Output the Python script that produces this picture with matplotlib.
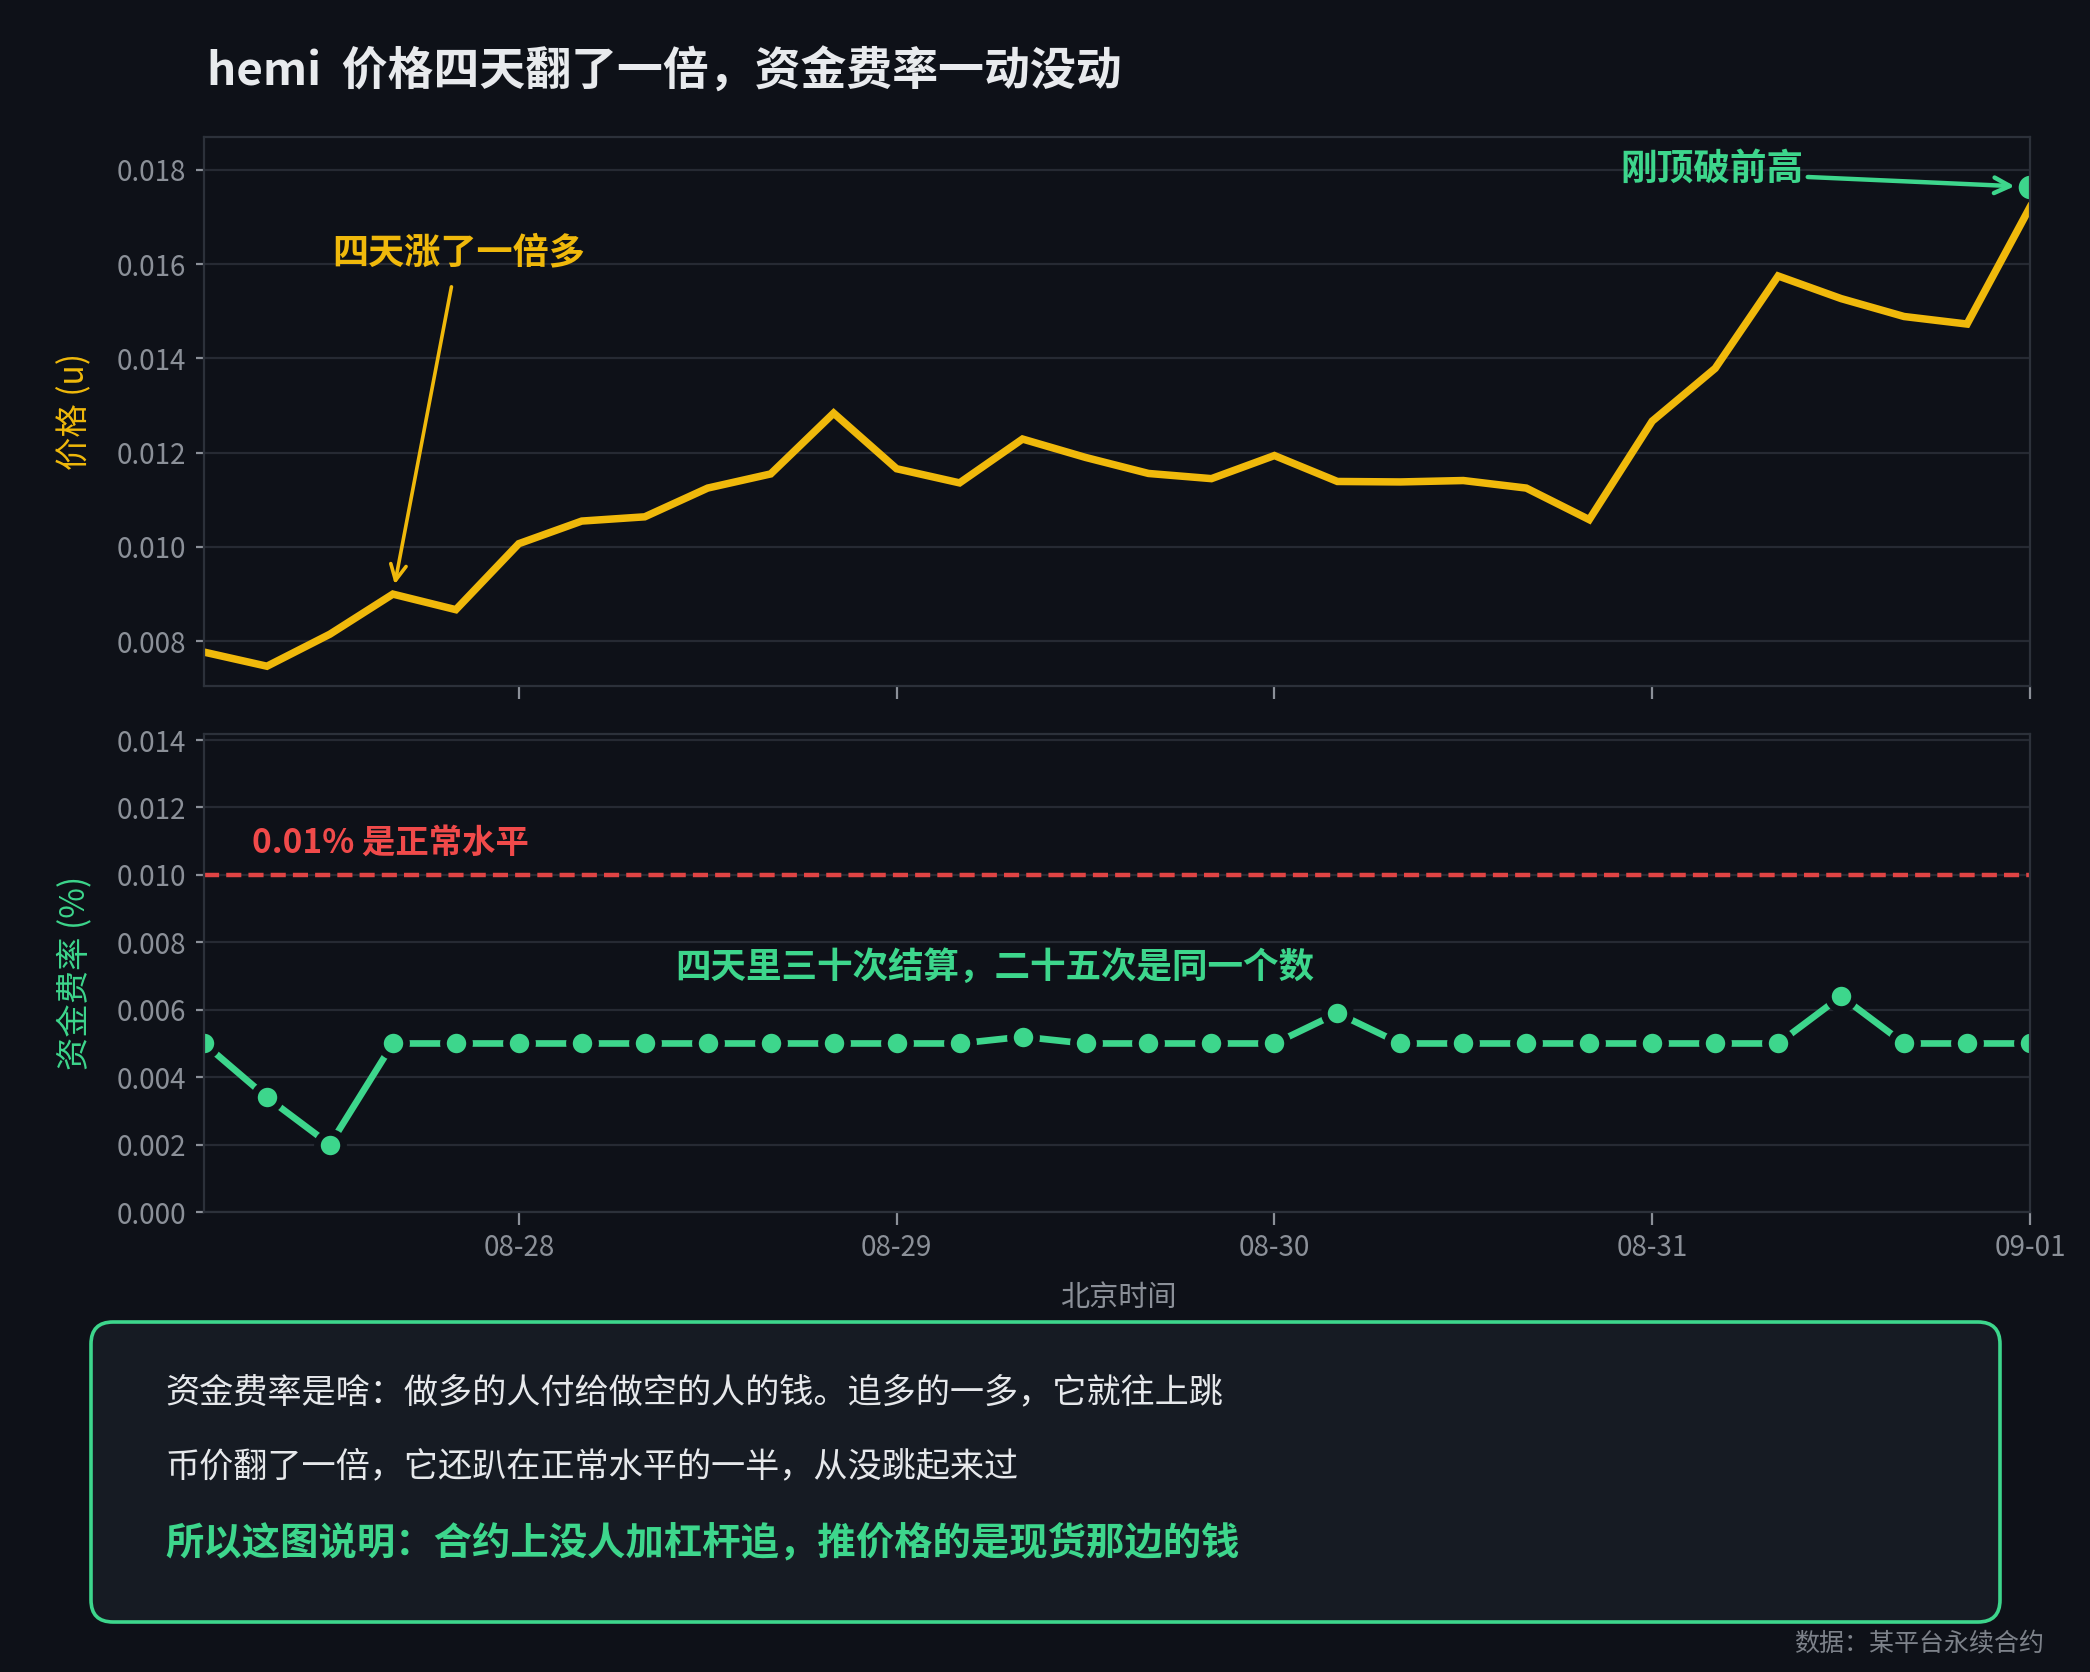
import matplotlib
matplotlib.use("Agg")
import matplotlib.pyplot as plt
import matplotlib.dates as mdates
from matplotlib.patches import FancyBboxPatch
from matplotlib.transforms import IdentityTransform
import pandas as pd

plt.rcParams['font.family'] = ['Noto Sans CJK SC', 'DejaVu Sans']

# data: 4-hour settlements, 08-27 04:00 -> 09-01 00:00 (Beijing time)
times = pd.date_range('2025-08-27 04:00', periods=30, freq='4h')
price = [0.00777, 0.00747, 0.00815, 0.00900, 0.00867, 0.01007, 0.01055, 0.01064,
         0.01125, 0.01155, 0.01284, 0.01166, 0.01136, 0.01229, 0.01190, 0.01156,
         0.01145, 0.01194, 0.01139, 0.01138, 0.01141, 0.01125, 0.01058, 0.01267,
         0.01379, 0.01575, 0.01527, 0.01489, 0.01473, 0.01721]
funding = [0.0050, 0.0034, 0.0020, 0.0050, 0.0050, 0.0050, 0.0050, 0.0050,
           0.0050, 0.0050, 0.0050, 0.0050, 0.0050, 0.0052, 0.0050, 0.0050,
           0.0050, 0.0050, 0.0059, 0.0050, 0.0050, 0.0050, 0.0050, 0.0050,
           0.0050, 0.0050, 0.0064, 0.0050, 0.0050, 0.0050]
normal_rate = 0.010
prev_high = 0.01764
xticks = pd.to_datetime(['2025-08-28', '2025-08-29', '2025-08-30', '2025-08-31', '2025-09-01'])

BG = '#0e1118'
YELLOW = '#f0b90b'
GREEN = '#3dd68c'
RED = '#f04a4a'
GRID = '#262a33'
SPINE = '#2c313a'
GREY = '#8b9098'


def at(i):
    # fractional position along the 4h time grid
    return times[0] + pd.Timedelta(hours=4 * i)


fig = plt.figure(figsize=(10.45, 8.36), dpi=200, facecolor=BG)
ax1 = fig.add_axes([0.0976, 0.5897, 0.8737, 0.3284], facecolor=BG)
ax2 = fig.add_axes([0.0976, 0.2751, 0.8737, 0.2859], facecolor=BG, sharex=ax1)

for ax in (ax1, ax2):
    ax.grid(axis='y', color=GRID, lw=0.8)
    ax.set_axisbelow(True)
    for s in ax.spines.values():
        s.set_color(SPINE)
        s.set_linewidth(0.8)
    ax.tick_params(colors=GREY, labelsize=10, length=3, width=0.8, pad=3.5)
    ax.yaxis.set_label_coords(-0.061, 0.5)

# price panel
ax1.plot(times, price, color=YELLOW, lw=2.7, solid_joinstyle='miter')
ax1.plot([times[-1]], [prev_high], 'o', color=GREEN, ms=8.5, mew=0)
ax1.set_ylim(0.00705, 0.0187)
ax1.set_yticks([0.008, 0.010, 0.012, 0.014, 0.016, 0.018])
ax1.yaxis.set_major_formatter(plt.FormatStrFormatter('%.3f'))
ax1.set_ylabel('价格 (u)', color=YELLOW, fontsize=12)
ax1.tick_params(axis='x', labelbottom=False)

ax1.text(at(4.04), 0.01624, '四天涨了一倍多', color=YELLOW, fontsize=13,
         fontweight='bold', ha='center', va='center')
ax1.annotate('', xy=(times[3], price[3]), xytext=(at(3.93), 0.01552),
             arrowprops=dict(arrowstyle='->', color=YELLOW, lw=1.3,
                             shrinkA=0, shrinkB=3.6, mutation_scale=14))
ax1.text(at(23.95), 0.01802, '刚顶破前高', color=GREEN, fontsize=13.2,
         fontweight='bold', ha='center', va='center')
ax1.annotate('', xy=(times[-1], prev_high), xytext=(at(25.47), 0.01785),
             arrowprops=dict(arrowstyle='->', color=GREEN, lw=1.6,
                             shrinkA=0, shrinkB=5.5, mutation_scale=14))

# funding panel
ax2.axhline(normal_rate, color='#e04444', lw=1.6, ls=(0, (3.4, 1.6)))
ax2.plot(times, funding, color=GREEN, lw=2.4, marker='o', ms=9.4,
         mfc=GREEN, mec=BG, mew=2.4)
ax2.set_ylim(0, 0.01418)
ax2.set_yticks([0.000, 0.002, 0.004, 0.006, 0.008, 0.010, 0.012, 0.014])
ax2.yaxis.set_major_formatter(plt.FormatStrFormatter('%.3f'))
ax2.set_ylabel('资金费率 (%)', color=GREEN, fontsize=12)
ax2.set_xlabel('北京时间', color=GREY, fontsize=10.5)
ax2.xaxis.set_label_coords(0.5005, -0.148)

ax2.text(at(0.77), 0.01093, '0.01% 是正常水平', color=RED, fontsize=12,
         fontweight='bold', ha='left', va='center')
ax2.text(at(12.56), 0.00726, '四天里三十次结算，二十五次是同一个数', color=GREEN,
         fontsize=12.8, fontweight='bold', ha='center', va='center')

ax2.set_xlim(times[0], times[-1])
ax2.set_xticks(xticks)
ax2.xaxis.set_major_formatter(mdates.DateFormatter('%m-%d'))
for ax in (ax1, ax2):
    ax.tick_params(axis='x', length=4.5, pad=3)

# title
fig.text(0.099, 0.9563, 'hemi  价格四天翻了一倍，资金费率一动没动', color='#e8eaed',
         fontsize=16.5, fontweight='bold', ha='left', va='center')

# explanation box
box = FancyBboxPatch((91, 50), 1909, 300, boxstyle='round,pad=0,rounding_size=22',
                     transform=IdentityTransform(), facecolor='#161b23',
                     edgecolor=GREEN, lw=1.3)
fig.add_artist(box)
fig.text(0.079, 0.1669, '资金费率是啥：做多的人付给做空的人的钱。追多的一多，它就往上跳',
         color='#e6e8eb', fontsize=12.3, ha='left', va='center')
fig.text(0.079, 0.1226, '币价翻了一倍，它还趴在正常水平的一半，从没跳起来过',
         color='#e6e8eb', fontsize=12.3, ha='left', va='center')
fig.text(0.079, 0.0772, '所以这图说明：合约上没人加杠杆追，推价格的是现货那边的钱',
         color=GREEN, fontsize=13.8, fontweight='bold', ha='left', va='center')

fig.text(0.978, 0.0173, '数据：某平台永续合约', color='#7d828a', fontsize=9,
         ha='right', va='center')

fig.savefig('out.png', dpi=200, facecolor=BG)
